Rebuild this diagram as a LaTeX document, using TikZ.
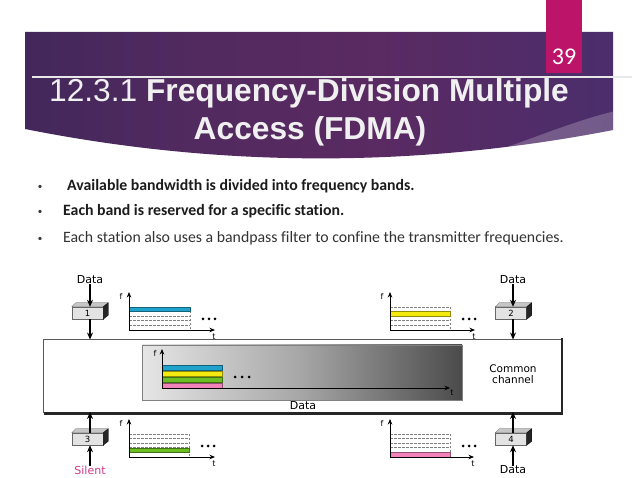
\documentclass[tikz,border=0pt]{standalone}
\usepackage{fontspec}
\setmainfont{Carlito}[Ligatures=NoCommon]
\newfontfamily\arialf{Liberation Sans}
\newfontfamily\diagf{DejaVu Sans}
\usetikzlibrary{arrows.meta}
\definecolor{bn1}{HTML}{2A2352}
\definecolor{bn2}{HTML}{522A60}
\definecolor{bn3}{HTML}{5A2A62}
\definecolor{bn4}{HTML}{4A2E6C}
\definecolor{bn5}{HTML}{262250}
\definecolor{tabpink}{HTML}{BC1469}
\definecolor{titlec}{HTML}{F0F0F0}
\definecolor{txtb}{HTML}{1C1C1C}
\definecolor{txtr}{HTML}{333333}
\definecolor{cblue}{HTML}{1FA3CC}
\definecolor{cyellow}{HTML}{F4EA10}
\definecolor{cgreen}{HTML}{6CBE22}
\definecolor{cpink}{HTML}{F283BA}
\definecolor{silentc}{HTML}{D03A8E}
\pgfdeclarehorizontalshading{bannershade}{100bp}{color(0bp)=(bn1); color(40bp)=(bn2); color(55bp)=(bn3); color(76bp)=(bn4); color(100bp)=(bn5)}
\pgfdeclarehorizontalshading{chshade}{100bp}{color(0bp)=(white); color(18bp)=(white!97!black); color(50bp)=(black!35); color(78bp)=(black!75); color(90bp)=(black!95); color(100bp)=(black)}
\tikzset{
  arr/.style={-{Stealth[length=7pt,width=6pt]}, line width=1.3pt},
  axarr/.style={-{Stealth[length=5.5pt,width=4.5pt]}, line width=0.8pt},
  dsh/.style={dash pattern=on 2.5pt off 1.5pt, gray, line width=0.6pt},
  lbl/.style={font=\diagf\fontsize{11}{11}\selectfont, inner sep=0pt},
  sml/.style={font=\diagf\fontsize{8}{8}\selectfont, inner sep=0pt},
  frontface/.style={draw=gray!80!black, fill=gray!22, line width=0.5pt, minimum width=31pt, minimum height=12pt, inner sep=0pt, font=\diagf\fontsize{8.5}{8.5}\selectfont},
  bul/.style={anchor=base west, inner sep=0pt, font=\fontsize{15.8}{17}\selectfont},
}
% box depth faces
\newcommand\boxdepth[1]{%
  \fill[gray!45, draw=gray!70!black, line width=0.3pt] (#1.north west) -- ++(4,-4) -- ([shift={(5,-4)}]#1.north east) -- (#1.north east) -- cycle;
  \fill[gray!30!black, draw=black, line width=0.3pt] (#1.north east) -- ++(5,-4) -- ([shift={(5,-4)}]#1.south east) -- (#1.south east) -- cycle;
}
% frequency chart: #1 name, #2 ox, #3 oy, #4 frame top, #5 frame right, #6 axis end, #7 band, #8 colour
\newcommand\fchart[8]{%
  \pgfmathsetmacro\bh{(#3-#4)/5}
  \foreach \k in {0,...,4} { \draw[dsh] (#2,{#4+\k*\bh}) -- (#5,{#4+\k*\bh}); }
  \draw[dsh] (#5,#4) -- (#5,#3);
  \fill[#8, draw=#8!60!black, line width=0.4pt] (#2,{#4+#7*\bh}) rectangle (#5,{#4+(#7+1)*\bh});
  \draw[axarr] (#2,#3) -- (#2,#3-38);
  \draw[axarr] (#2,#3) -- (#6,#3);
  \node[sml] (f#1) at (#2-8,#3-34) {f};
  \node[sml] (t#1) at (#6-1,#3+7) {t};
  \foreach \d in {0,6,12} { \fill ({#5+13+\d},{#3-11}) circle (1.5); }
}
\begin{document}
\begin{tikzpicture}[x=1pt,y=-1pt]
\useasboundingbox (0,0) rectangle (638,478);
\fill[white] (0,0) rectangle (638,478);
% banner
\shade[shading=bannershade] (25,32) -- (613,32) -- (613,130) .. controls (417,168) and (221,168) .. (25,129) -- cycle;
\begin{scope}
  \clip (25,32) -- (613,32) -- (613,130) .. controls (417,168) and (221,168) .. (25,129) -- cycle;
  \fill[white, opacity=0.22] (420,175) .. controls (510,150) and (565,122) .. (620,110) -- (620,200) -- (420,200) -- cycle;
\end{scope}
\fill[tabpink] (546,0) rectangle (582,73);
\draw[white!82!gray, line width=2.5pt] (32,77) -- (632,77);
\node[anchor=base, inner sep=0pt, text=white, font=\fontsize{24}{24}\selectfont] (pg) at (564,65) {39};
\node[anchor=base, inner sep=0pt, text=titlec, font=\arialf\fontsize{31.7}{36}\selectfont] (ti1) at (309,102) {12.3.1 \textbf{Frequency-Division Multiple}};
\node[anchor=base, inner sep=0pt, text=titlec, font=\arialf\bfseries\fontsize{31.7}{36}\selectfont] (ti2) at (310,140) {Access (FDMA)};
% bullets
\node[inner sep=0pt, text=txtr, font=\fontsize{9}{9}\selectfont] (d1) at (40,187) {\textbullet};
\node[inner sep=0pt, text=txtr, font=\fontsize{9}{9}\selectfont] (d2) at (40,212) {\textbullet};
\node[inner sep=0pt, text=txtr, font=\fontsize{9}{9}\selectfont] (d3) at (40,239) {\textbullet};
\node[bul, text=txtb] (l1) at (67,191) {\textbf{Available bandwidth is divided into frequency bands.}};
\node[bul, text=txtb] (l2) at (63,216) {\textbf{Each band is reserved for a specific station.}};
\node[bul, text=txtr] (l3) at (63,243) {Each station also uses a bandpass filter to confine the transmitter frequencies.};
% common channel
\node[draw=gray!70!black, line width=1pt, minimum width=518pt, minimum height=73pt, inner sep=0pt] (ch) at (302,376.5) {};
\draw[black!85, line width=2.2pt] ([xshift=0.5pt,yshift=1pt]ch.north east) -- ([xshift=0.5pt]ch.south east) -- ([xshift=1pt]ch.south west);
\shade[shading=chshade, draw=gray, line width=0.5pt] (142,345) rectangle (462,400);
\node[lbl, align=center, font=\diagf\fontsize{10.5}{11}\selectfont] (cc) at (513,374.5) {Common\\channel};
\node[lbl] (cd) at (303,406) {Data};
% inner chart
\fill[cblue, draw=cblue!60!black, line width=0.4pt] (162,365) rectangle (222,370.5);
\fill[cyellow, draw=cyellow!60!black, line width=0.4pt] (162,371) rectangle (222,376.5);
\fill[cgreen, draw=cgreen!60!black, line width=0.4pt] (162,377) rectangle (222,382.5);
\fill[cpink, draw=cpink!60!black, line width=0.4pt] (162,383) rectangle (222,388);
\draw[axarr] (162,388) -- (162,349);
\draw[axarr] (162,388) -- (450,388);
\node[sml] (fi) at (155,353) {f};
\node[sml, text=black] (tin) at (452,393) {t};
\foreach \d in {0,7,14} { \fill ({235+\d},377) circle (1.5); }
% stations
\node[frontface] (s1) at (87.5,313) {1};
\node[frontface] (s2) at (511,313) {2};
\node[frontface] (s3) at (87.5,439) {3};
\node[frontface] (s4) at (511,439) {4};
\boxdepth{s1}\boxdepth{s2}\boxdepth{s3}\boxdepth{s4}
\node[lbl] (da1) at (90,280) {Data};
\node[lbl] (da2) at (513,280) {Data};
\node[lbl, text=silentc] (si3) at (90,470) {Silent};
\node[lbl] (da4) at (513,470) {Data};
\draw[arr] (da1.south) -- (da1.south |- s1.north);
\draw[arr] (s1.south -| da1) -- (ch.north -| da1);
\draw[arr] (da2.south) -- (da2.south |- s2.north);
\draw[arr] (s2.south -| da2) -- (ch.north -| da2);
\draw[arr] (si3.north) -- (si3.north |- s3.south);
\draw[arr] (s3.north -| si3) -- ([yshift=1.5pt]ch.south -| si3);
\draw[arr] (da4.north) -- (da4.north |- s4.south);
\draw[arr] (s4.north -| da4) -- ([yshift=1.5pt]ch.south -| da4);
% charts
\fchart{1}{129}{330}{307}{190}{215}{0}{cblue}
\fchart{2}{390}{330}{307}{450}{475}{1}{cyellow}
\fchart{3}{129}{457}{434}{189}{215}{3}{cgreen}
\fchart{4}{390}{457}{434}{450}{474}{4}{cpink}
\end{tikzpicture}
\end{document}
